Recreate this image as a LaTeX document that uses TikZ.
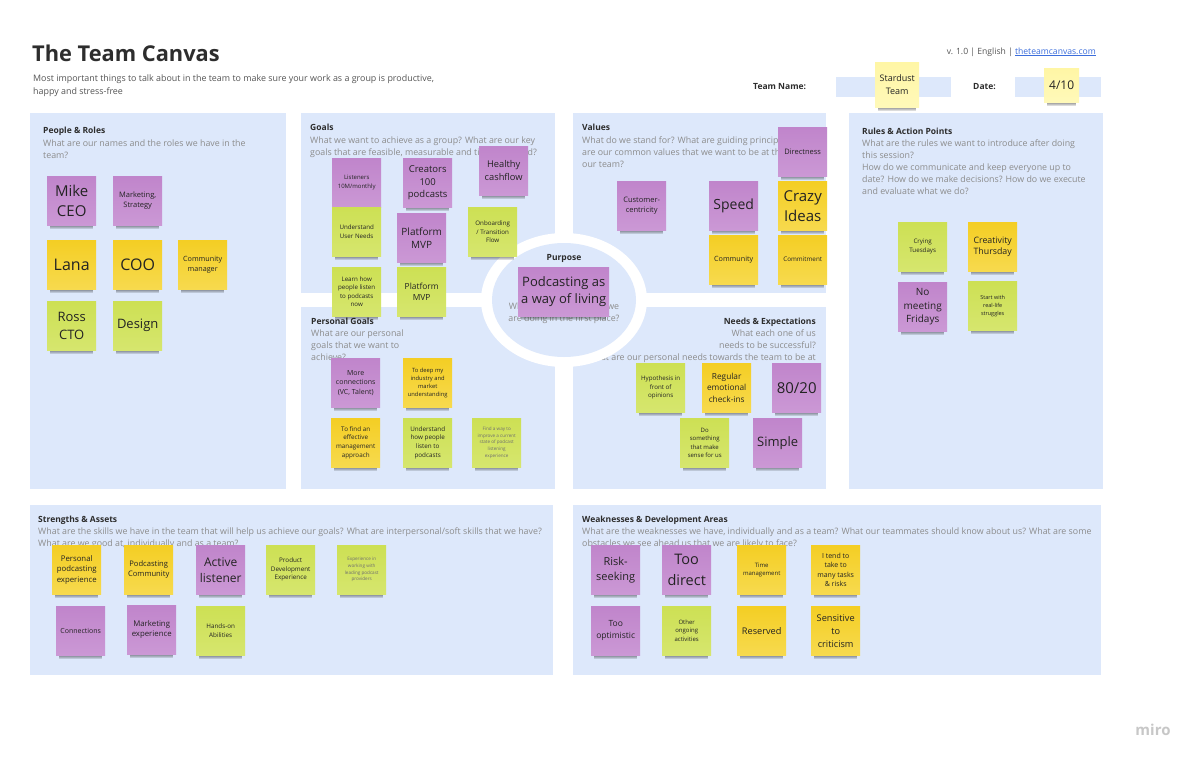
\documentclass[tikz,border=0pt]{standalone}
\usepackage{fontspec}
\setmainfont{Open Sans}
\usetikzlibrary{fadings}
\definecolor{panel}{RGB}{221,232,251}
\definecolor{puA}{RGB}{192,133,203}
\definecolor{puB}{RGB}{203,152,213}
\definecolor{yeA}{RGB}{244,206,36}
\definecolor{yeB}{RGB}{247,218,78}
\definecolor{grA}{RGB}{205,224,84}
\definecolor{grB}{RGB}{214,230,110}
\definecolor{lyA}{RGB}{255,246,165}
\definecolor{lyB}{RGB}{255,249,185}
\definecolor{titlec}{RGB}{45,45,45}
\definecolor{descc}{RGB}{140,140,140}
\definecolor{subc}{RGB}{85,85,85}
\definecolor{linkc}{RGB}{60,110,220}
\definecolor{notec}{RGB}{35,35,35}
\definecolor{faintc}{RGB}{110,110,110}
\newcommand\fs[2]{\fontsize{#1}{#2}\selectfont}
\tikzset{
  stshadow/.style={fill=black, fill opacity=0.5, path fading=south},
  sticky/.style={anchor=north west, minimum width=49pt, minimum height=49pt, inner sep=1pt,
    align=center, text=notec,
    append after command={\pgfextra{\fill[stshadow] ([xshift=3pt,yshift=1pt]\tikzlastnode.south west) rectangle ([xshift=-3pt,yshift=-4pt]\tikzlastnode.south east);}}},
  pu/.style={top color=puA, bottom color=puB},
  ye/.style={top color=yeA, bottom color=yeB},
  gr/.style={top color=grA, bottom color=grB},
  ly/.style={top color=lyA, bottom color=lyB},
  ptitle/.style={anchor=base west, inner sep=0pt, font=\bfseries\fs{8.5}{10}, text=titlec},
  desc/.style={anchor=north west, inner sep=0pt, align=left, text=descc, font=\fs{8.85}{12}},
}
\begin{document}
\begin{tikzpicture}[x=1pt,y=-1pt]
\useasboundingbox[fill=white] (0,0) rectangle (1200,763);
% header
\node[anchor=base west, inner sep=0pt, font=\bfseries\fs{21.8}{25}, text=titlec] (title) at (32,61.8) {The Team Canvas};
\node[desc, text=subc, font=\fs{8.9}{13}] (subtitle) at (33,72) {\strut Most important things to talk about in the team to make sure your work as a group is productive,\\happy and stress-free};
\node[anchor=base east, inner sep=0pt, font=\fs{8.6}{10}, text=subc] (version) at (1096,54) {v. 1.0 | English | \textcolor{linkc}{\underline{theteamcanvas.com}}};
\node[ptitle] (teamname) at (753,89) {Team Name:};
\fill[panel] (836,77) rectangle (951,97);
\node[ptitle] (datelbl) at (973,89) {Date:};
\fill[panel] (1015,77) rectangle (1101,97);
\node[sticky, ly, minimum width=44pt, minimum height=45pt, font=\fs{9}{13}] (h1) at (875,62) {Stardust\\Team};
\node[sticky, ly, minimum width=35pt, minimum height=34pt, font=\fs{12}{14}] (h2) at (1044,68) {4/10};
% panels
\fill[panel] (30,113) rectangle (286,489);
\fill[panel] (301,113) rectangle (555,293);
\fill[panel] (573,113) rectangle (826,293);
\fill[panel] (301,307) rectangle (555,489);
\fill[panel] (573,307) rectangle (826,489);
\fill[panel] (849,113) rectangle (1103,489);
\fill[panel] (30,505) rectangle (553,675);
\fill[panel] (573,505) rectangle (1101,675);
% panel texts
\node[ptitle] (t1) at (43,133.2) {People \& Roles};
\node[desc] (d1) at (43,138) {\strut What are our names and the roles we have in the\\team?};
\node[ptitle] (t2) at (310,130.2) {Goals};
\node[desc] (d2) at (310,135) {\strut What we want to achieve as a group? What are our key\\goals that are feasible, measurable and time-bounded?};
\node[ptitle] (t3) at (582,130.2) {Values};
\node[desc] (d3) at (582,135) {\strut What do we stand for? What are guiding principles? What\\are our common values that we want to be at the core of\\our team?};
\node[ptitle] (t4) at (311,324.2) {Personal Goals};
\node[desc] (d4) at (311,328) {\strut What are our personal\\goals that we want to\\achieve?};
\node[ptitle, anchor=base east] (t5) at (816,324.2) {Needs \& Expectations};
\node[desc, anchor=north east, align=right] (d5) at (816,328) {\strut What each one of us\\needs to be successful?\\What are our personal needs towards the team to be at};
\node[ptitle] (t6) at (862,134.2) {Rules \& Action Points};
\node[desc] (d6) at (862,138) {\strut What are the rules we want to introduce after doing\\this session?\\How do we communicate and keep everyone up to\\date? How do we make decisions? How do we execute\\and evaluate what we do?};
\node[ptitle] (t7) at (38,522.2) {Strengths \& Assets};
\node[desc] (d7) at (38,526) {\strut What are the skills we have in the team that will help us achieve our goals? What are interpersonal/soft skills that we have?\\What are we good at, individually and as a team?};
\node[ptitle] (t8) at (582,522.2) {Weaknesses \& Development Areas};
\node[desc] (d8) at (582,526) {\strut What are the weaknesses we have, individually and as a team? What our teammates should know about us? What are some\\obstacles we see ahead us that we are likely to face?};
% purpose ring
\fill[white] (564,300) ellipse [x radius=83, y radius=67];
\fill[panel] (564,300) ellipse [x radius=72, y radius=57];
\node[ptitle, anchor=base] (t9) at (564,260.2) {Purpose};
\node[desc, anchor=north, align=center] (d9) at (564,301) {\strut Why we are doing what we\\are doing in the first place?};
% People & Roles
\node[sticky,pu,font=\fs{15}{20}] (n1) at (47,176) {Mike\\CEO};
\node[sticky,pu,font=\fs{7.5}{10}] (n2) at (113,176) {Marketing,\\Strategy};
\node[sticky,ye,font=\fs{16}{20}] (n3) at (47,240) {Lana};
\node[sticky,ye,font=\fs{16}{20}] (n4) at (113,240) {COO};
\node[sticky,ye,font=\fs{7.2}{10}] (n5) at (178,240) {Community\\manager};
\node[sticky,gr,font=\fs{13}{18}] (n6) at (47,301) {Ross\\CTO};
\node[sticky,gr,font=\fs{13}{18}] (n7) at (113,301) {Design};
% Goals
\node[sticky,pu,font=\fs{6}{8.5}] (g1) at (332,158) {Listeners\\10M/monthly};
\node[sticky,pu,font=\fs{9.5}{12.5}] (g2) at (403,158) {Creators\\100\\podcasts};
\node[sticky,pu,font=\fs{9.3}{12.5}] (g3) at (479,146) {Healthy\\cashflow};
\node[sticky,gr,font=\fs{6.2}{8.5}] (g4) at (332,207) {Understand\\User Needs};
\node[sticky,pu,font=\fs{10}{13}] (g5) at (397,213) {Platform\\MVP};
\node[sticky,gr,font=\fs{6.2}{8.5}] (g6) at (468,207) {Onboarding\\/ Transition\\Flow};
\node[sticky,gr,font=\fs{6.2}{8.5}] (g7) at (332,267) {Learn how\\people listen\\to podcasts\\now};
\node[sticky,gr,font=\fs{8.4}{11.5}] (g8) at (397,267) {Platform\\MVP};
% Purpose
\node[sticky,pu,minimum width=91pt,font=\fs{13}{17}] (pp) at (518,267) {Podcasting as\\a way of living};
% Values
\node[sticky,pu,font=\fs{7.5}{10}] (v1) at (778,127) {Directness};
\node[sticky,pu,font=\fs{7.5}{10}] (v2) at (617,181) {Customer-\\centricity};
\node[sticky,pu,font=\fs{14}{18}] (v3) at (709,181) {Speed};
\node[sticky,ye,font=\fs{15}{20}] (v4) at (778,181) {Crazy\\Ideas};
\node[sticky,ye,font=\fs{7.2}{10}] (v5) at (709,235) {Community};
\node[sticky,ye,font=\fs{6.3}{9}] (v6) at (778,235) {Commitment};
% Personal goals
\node[sticky,pu,font=\fs{7}{9.5}] (p1) at (331,358) {More\\connections\\(VC, Talent)};
\node[sticky,ye,font=\fs{5.8}{8}] (p2) at (403,358) {To deep my\\industry and\\market\\understanding};
\node[sticky,ye,font=\fs{6.3}{8.8}] (p3) at (331,418) {To find an\\effective\\management\\approach};
\node[sticky,gr,font=\fs{6.3}{8.8}] (p4) at (403,418) {Understand\\how people\\listen to\\podcasts};
\node[sticky,gr,text=faintc,font=\fs{4.6}{6.6}] (p5) at (472,418) {Find a way to\\improve a current\\state of podcast\\listening\\experience};
% Needs
\node[sticky,gr,font=\fs{6.2}{8.5}] (e1) at (636,363) {Hypothesis in\\front of\\opinions};
\node[sticky,ye,font=\fs{8.3}{11.5}] (e2) at (702,363) {Regular\\emotional\\check-ins};
\node[sticky,pu,font=\fs{15}{20}] (e3) at (772,363) {80/20};
\node[sticky,gr,font=\fs{6}{8.5}] (e4) at (680,418) {Do\\something\\that make\\sense for us};
\node[sticky,pu,font=\fs{13}{17}] (e5) at (753,418) {Simple};
% Rules
\node[sticky,gr,font=\fs{6.2}{8.5}] (r1) at (898,222) {Crying\\Tuesdays};
\node[sticky,ye,font=\fs{8.8}{11.5}] (r2) at (968,222) {Creativity\\Thursday};
\node[sticky,pu,font=\fs{10}{13.5}] (r3) at (898,282) {No\\meeting\\Fridays};
\node[sticky,gr,font=\fs{5.5}{8}] (r4) at (968,281) {Start with\\real-life\\struggles};
% Strengths
\node[sticky,ye,font=\fs{7.8}{10.5}] (s1) at (52,545) {Personal\\podcasting\\experience};
\node[sticky,ye,font=\fs{7.6}{10.5}] (s2) at (124,545) {Podcasting\\Community};
\node[sticky,pu,font=\fs{12}{16}] (s3) at (196,545) {Active\\listener};
\node[sticky,gr,font=\fs{6.3}{8.5}] (s4) at (266,545) {Product\\Development\\Experience};
\node[sticky,gr,text=faintc,font=\fs{4.6}{6.6}] (s5) at (337,545) {Experience in\\working with\\leading podcast\\providers};
\node[sticky,pu,font=\fs{7}{9}] (s6) at (56,606) {Connections};
\node[sticky,pu,font=\fs{7.8}{10.5}] (s7) at (127,605) {Marketing\\experience};
\node[sticky,gr,font=\fs{6.3}{8.5}] (s8) at (196,606) {Hands-on\\Abilities};
% Weaknesses
\node[sticky,pu,font=\fs{11}{15}] (w1) at (591,545) {Risk-\\seeking};
\node[sticky,pu,font=\fs{14.5}{21}] (w2) at (662,545) {Too\\direct};
\node[sticky,ye,font=\fs{6}{8}] (w3) at (737,545) {Time\\management};
\node[sticky,ye,font=\fs{7}{9.5}] (w4) at (811,545) {I tend to\\take to\\many tasks\\\& risks};
\node[sticky,pu,font=\fs{8.5}{11.5}] (w5) at (591,606) {Too\\optimistic};
\node[sticky,gr,font=\fs{6}{8.5}] (w6) at (662,606) {Other\\ongoing\\activities};
\node[sticky,ye,font=\fs{9.2}{12}] (w7) at (737,606) {Reserved};
\node[sticky,ye,font=\fs{9.2}{13}] (w8) at (811,606) {Sensitive\\to\\criticism};
% logo
\node[font=\bfseries\fs{15}{18}, text=black!22] (miro) at (1153,730) {miro};
\end{tikzpicture}
\end{document}
